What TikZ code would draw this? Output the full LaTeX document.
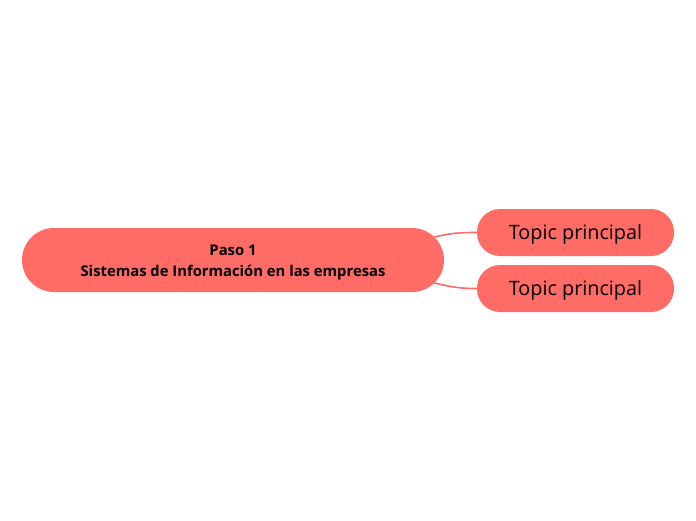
\documentclass[tikz,border=0pt]{standalone}
\usepackage{fontspec}
\setmainfont{Open Sans}
\usetikzlibrary{calc,backgrounds}
\definecolor{topicred}{HTML}{FF6B65}
\tikzset{
  mainbox/.style={fill=topicred, rounded corners=32pt, minimum width=422pt,
    minimum height=64pt, align=center, inner sep=0pt, text height=37pt,
    font=\fontsize{14.8}{21}\selectfont\bfseries},
  topicbox/.style={fill=topicred, rounded corners=23pt, minimum width=197pt,
    minimum height=47pt, inner sep=0pt, text height=19.5pt,
    font=\fontsize{19.8}{24}\selectfont},
  branch/.style={topicred, line width=1.6pt}
}
\begin{document}
\begin{tikzpicture}[x=1pt,y=-1pt]
        \useasboundingbox (0,0) rectangle (696,520);

        \node[mainbox] (paso) at (233,260) {Paso 1\\Sistemas de Información en las empresas};

        \node[topicbox] (topicA) at (575.5,232.5) {Topic principal};
        \node[topicbox] (topicB) at (575.5,288.5) {Topic principal};

        % ramas detras de los nodos
        \begin{pgfonlayer}{background}
        \draw[branch] ($(paso.east)+(-10,-23)$) .. controls +(18,-4) and +(-18,0) .. (topicA.west);
        \draw[branch] ($(paso.east)+(-10,23)$) .. controls +(18,4) and +(-18,0) .. (topicB.west);
        \end{pgfonlayer}
    \end{tikzpicture}
\end{document}
